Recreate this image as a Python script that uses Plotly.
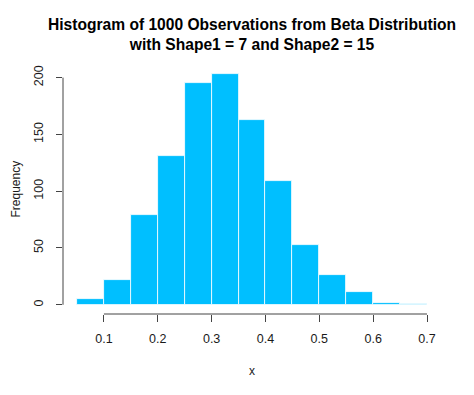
import plotly.graph_objects as go

# Histogram data
breaks = [0.05, 0.10, 0.15, 0.20, 0.25, 0.30, 0.35, 0.40, 0.45, 0.50, 0.55, 0.60, 0.65, 0.70]
counts = [5, 22, 79, 131, 195, 203, 163, 109, 53, 26, 11, 2, 1]
x_ticks = [0.1, 0.2, 0.3, 0.4, 0.5, 0.6, 0.7]
x_tick_labels = ["0.1", "0.2", "0.3", "0.4", "0.5", "0.6", "0.7"]
y_ticks = [0, 50, 100, 150, 200]
y_tick_labels = ["0", "50", "100", "150", "200"]

centers = [(breaks[i] + breaks[i + 1]) / 2 for i in range(len(counts))]
widths = [breaks[i + 1] - breaks[i] for i in range(len(counts))]

# R-style 4% axis extension
xr = breaks[-1] - breaks[0]
x_range = [breaks[0] - 0.04 * xr, breaks[-1] + 0.04 * xr]
ymax = max(counts)
y_range = [-0.04 * ymax, ymax * 1.04]

FONT = "Liberation Sans, Arial, sans-serif"
INK = "#1a1a1a"

fig = go.Figure()
fig.add_trace(go.Bar(
    x=centers, y=counts, width=widths,
    marker=dict(color="#00BFFF", line=dict(color="white", width=0.8)),
    hoverinfo="x+y",
))

W, H = 474, 395
ML, MR, MT, MB = 63, 33, 65, 81
fig.update_layout(
    width=W, height=H,
    margin=dict(l=ML, r=MR, t=MT, b=MB, pad=0, autoexpand=False),
    paper_bgcolor="white", plot_bgcolor="white",
    showlegend=False,
    bargap=0,
    font=dict(family=FONT, size=12, color=INK),
    title=dict(
        text="<b>Histogram of 1000 Observations from Beta Distribution<br>with Shape1 = 7 and Shape2 = 15</b>",
        x=0.5, xref="paper", xanchor="center",
        y=1 - 29.5 / H, yref="container", yanchor="middle",
        font=dict(family=FONT, size=15.6, color="black"),
        automargin=False,
    ),
    xaxis=dict(
        range=x_range, showgrid=False, zeroline=False, showline=False,
        automargin=False,
        tickmode="array", tickvals=x_ticks, ticktext=x_tick_labels,
        ticks="outside", ticklen=7, tickwidth=1, tickcolor="#444",
        ticklabelstandoff=6,
        tickfont=dict(family=FONT, size=12.5, color=INK),
        fixedrange=True,
    ),
    yaxis=dict(
        range=y_range, showgrid=False, zeroline=False, showline=False,
        automargin=False,
        tickmode="array", tickvals=y_ticks, ticktext=y_tick_labels,
        ticks="outside", ticklen=6, tickwidth=1, tickcolor="#444",
        tickangle=-90, ticklabelstandoff=8,
        tickfont=dict(family=FONT, size=12.5, color=INK),
        fixedrange=True,
    ),
)

# R-style axis lines spanning only from the first to the last tick
fig.add_shape(type="line", xref="x", yref="paper",
              x0=min(x_ticks), x1=max(x_ticks), y0=0, y1=0,
              line=dict(color="#444", width=1))
fig.add_shape(type="line", xref="paper", yref="y",
              x0=0, x1=0, y0=min(y_ticks), y1=max(y_ticks),
              line=dict(color="#444", width=1))

# Axis titles
fig.add_annotation(text="x", xref="paper", yref="paper", x=0.5, y=-(371 - (H - MB)) / (H - MT - MB),
                   showarrow=False, yanchor="middle", xanchor="center",
                   font=dict(family=FONT, size=12, color=INK))
fig.add_annotation(text="Frequency", xref="paper", yref="paper", x=-(ML - 15) / (W - ML - MR), y=0.5,
                   showarrow=False, textangle=-90, xanchor="center", yanchor="middle",
                   font=dict(family=FONT, size=12, color=INK))

fig.write_html(
    "out.html",
    config={"displayModeBar": False},
    post_script="document.body.style.margin='0px';document.body.style.padding='0px';",
)
